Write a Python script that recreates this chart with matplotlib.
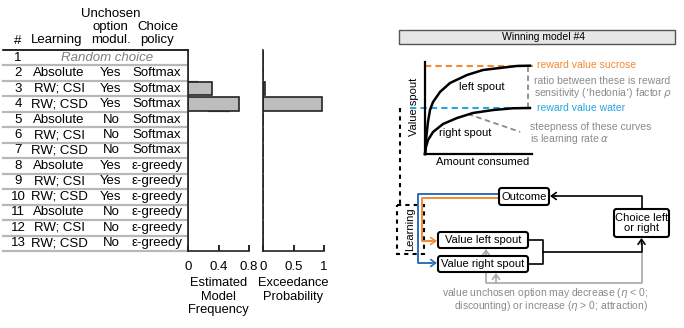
import numpy as np
import matplotlib.pyplot as plt
from matplotlib.patches import FancyBboxPatch, Rectangle

plt.rcParams['font.family'] = ['Liberation Sans', 'DejaVu Sans']

W, H = 684, 328

# ---- model comparison data ----
model_ids = list(range(1, 14))
learning = ['', 'Absolute', 'RW; CSI', 'RW; CSD', 'Absolute', 'RW; CSI', 'RW; CSD',
            'Absolute', 'RW; CSI', 'RW; CSD', 'Absolute', 'RW; CSI', 'RW; CSD']
unchosen = ['', 'Yes', 'Yes', 'Yes', 'No', 'No', 'No', 'Yes', 'Yes', 'Yes', 'No', 'No', 'No']
policy = ['', 'Softmax', 'Softmax', 'Softmax', 'Softmax', 'Softmax', 'Softmax',
          'ε-greedy', 'ε-greedy', 'ε-greedy', 'ε-greedy', 'ε-greedy', 'ε-greedy']
emf = [0, 0, 0.31, 0.67, 0, 0, 0, 0, 0, 0, 0, 0, 0]
ep = [0, 0, 0.03, 0.97, 0, 0, 0, 0, 0, 0, 0, 0, 0]
# spread marks peeking out from behind the EMF bars
spread_rows = [3, 4]
spread_lo = [0.0, 0.28]
spread_hi = [0.12, 0.54]

# ---- schematic value curves (amount consumed vs value) ----
left_x = [0, 0.09, 0.28, 0.47, 0.75, 1.4, 2.34, 3.93, 5.42, 7.0, 8.6, 9.81]
left_y = [0, 0.15, 0.35, 0.48, 0.565, 0.674, 0.772, 0.859, 0.913, 0.935, 0.957, 0.96]
right_x = [0, 0.09, 0.28, 0.75, 1.68, 2.99, 4.49, 6.36, 8.22, 9.81]
right_y = [0, 0.076, 0.152, 0.239, 0.326, 0.391, 0.446, 0.478, 0.497, 0.5]
sucrose_level = 0.96
water_level = 0.5

ORANGE = '#f08a35'
LBLUE = '#29a6e0'
DBLUE = '#2d6fb6'
GREY_T = '#8a8a8a'


def fbox(x0, y0, x1, y1):
    return [x0 / W, 1 - y1 / H, (x1 - x0) / W, (y1 - y0) / H]


fig = plt.figure(figsize=(W / 100, H / 100), dpi=100)

# ---------------- table ----------------
axt = fig.add_axes(fbox(0, 50, 188, 251))
axt.set_xlim(0, 188)
axt.set_ylim(13.5, 0.5)
axt.axis('off')
fs = 9.5
axt.plot([3, 188], [0.5, 0.5], color='k', lw=1.2, clip_on=False)
for r in model_ids:
    axt.plot([3, 188], [r + 0.5, r + 0.5], color='#b8b8b8', lw=1.6, clip_on=False)
for i, r in enumerate(model_ids):
    axt.text(18, r, str(r), ha='center', va='center', fontsize=fs)
    if r == 1:
        axt.text(107, r, 'Random choice', ha='center', va='center', fontsize=fs,
                 style='italic', color='#7f7f7f')
        continue
    axt.text(59, r, learning[i], ha='center', va='center', fontsize=fs)
    axt.text(111, r, unchosen[i], ha='center', va='center', fontsize=fs)
    axt.text(157, r, policy[i], ha='center', va='center', fontsize=fs)


def hy(py):
    return 0.5 + (py - 50) / 15.46


axt.text(18, hy(41), '#', ha='center', va='center', fontsize=fs, clip_on=False)
axt.text(57, hy(40), 'Learning', ha='center', va='center', fontsize=fs)
axt.text(111, hy(40), 'modul.', ha='center', va='center', fontsize=fs)
axt.text(110, hy(27), 'option', ha='center', va='center', fontsize=fs)
axt.text(111, hy(14), 'Unchosen', ha='center', va='center', fontsize=fs)
axt.text(158, hy(27), 'Choice', ha='center', va='center', fontsize=fs)
axt.text(157, hy(40), 'policy', ha='center', va='center', fontsize=fs)

# ---------------- bars ----------------
ax1 = fig.add_axes(fbox(188, 50, 249, 251))
ax2 = fig.add_axes(fbox(263, 50, 324, 251))
for i, (r, lo, hi) in enumerate(zip(spread_rows, spread_lo, spread_hi)):
    yy = r - 0.45 if i == 0 else r + 0.45
    ax1.plot([lo, hi], [yy, yy], color='#555555', lw=1.6, zorder=1)
ax1.barh(model_ids, emf, height=0.88, color='#bdbdbd', edgecolor='#222222', lw=1.2, zorder=2)
ax2.barh(model_ids, ep, height=0.88, color='#bdbdbd', edgecolor='#222222', lw=1.2, zorder=2)
ax1.set_xlim(0, 0.8)
ax2.set_xlim(0, 1)
ax1.set_xticks([0, 0.4, 0.8])
ax1.set_xticklabels(['0', '0.4', '0.8'])
ax2.set_xticks([0, 0.5, 1])
ax2.set_xticklabels(['0', '0.5', '1'])
for ax, lab in [(ax1, 'Estimated\nModel\nFrequency'), (ax2, 'Exceedance\nProbability')]:
    ax.set_ylim(13.5, 0.5)
    ax.set_yticks([])
    ax.set_facecolor('none')
    for s in ['top', 'right']:
        ax.spines[s].set_visible(False)
    for s in ['left', 'bottom']:
        ax.spines[s].set_linewidth(1.2)
        ax.spines[s].set_color('#222222')
    ax.tick_params(axis='x', direction='in', length=4, width=1.2, pad=7, labelsize=9.5)
    ax.set_xlabel(lab, fontsize=9.3, labelpad=3)

# ---------------- diagram canvas (pixel coordinates) ----------------
axd = fig.add_axes([0, 0, 1, 1])
axd.set_xlim(0, W)
axd.set_ylim(H, 0)
axd.axis('off')
fd = 7.5
fb = 8

axd.add_patch(Rectangle((399, 30), 276, 14, fc='#e6e6e6', ec='#555555', lw=1))
axd.text(544, 37.5, 'Winning model #4', ha='center', va='center', fontsize=fd)

# value curves inset
axv = fig.add_axes(fbox(425, 62, 532, 154))
axv.set_facecolor('none')
axv.set_xlim(0, 10)
axv.set_ylim(0, 1)
axv.set_xticks([])
axv.set_yticks([])
for s in ['top', 'right']:
    axv.spines[s].set_visible(False)
for s in ['left', 'bottom']:
    axv.spines[s].set_linewidth(1.6)
axv.plot([0, 10.1], [sucrose_level, sucrose_level], color=ORANGE, lw=1.5, ls=(0, (3, 2)), clip_on=False)
axv.plot([-1.4, 10.1], [water_level, water_level], color=LBLUE, lw=1.5, ls=(0, (3, 2)), clip_on=False)
axv.plot([9.63, 9.63], [water_level, sucrose_level], color='#8a8a8a', lw=1.3, ls=(0, (3, 2)))
axv.plot([4.0, 8.9], [0.435, 0.24], color='#8a8a8a', lw=1.3, ls=(0, (3, 2)))
axv.plot(left_x, left_y, color='k', lw=1.8, clip_on=False)
axv.plot(right_x, right_y, color='k', lw=1.8, clip_on=False)

axd.text(414, 107, 'Value spout', rotation=90, ha='center', va='center', fontsize=fb)
axd.text(483, 162, 'Amount consumed', ha='center', va='center', fontsize=fb)
axd.text(482, 87, 'left spout', ha='center', va='center', fontsize=fb)
axd.text(465, 133, 'right spout', ha='center', va='center', fontsize=fb)
axd.text(537, 65.5, 'reward value sucrose', ha='left', va='center', fontsize=fd, color=ORANGE)
axd.text(534, 80.5, 'ratio between these is reward', ha='left', va='center', fontsize=fd, color=GREY_T)
axd.text(534, 93, 'sensitivity (\u2018hedonia\u2019) factor $\\rho$', ha='left', va='center',
         fontsize=fd, color=GREY_T)
axd.text(537, 108, 'reward value water', ha='left', va='center', fontsize=fd, color=LBLUE)
axd.text(530, 127, 'steepness of these curves', ha='left', va='center', fontsize=fd, color=GREY_T)
axd.text(530, 139, 'is learning rate $\\alpha$', ha='left', va='center', fontsize=fd, color=GREY_T)

# flow diagram
LW = 1.2


def arrow(x0, y0, x1, y1, c):
    axd.annotate('', xy=(x1, y1), xytext=(x0, y0),
                 arrowprops=dict(arrowstyle='->,head_length=0.35,head_width=0.25', color=c,
                                 lw=LW, shrinkA=0, shrinkB=0))


def box(x0, y0, x1, y1, label):
    axd.add_patch(FancyBboxPatch((x0, y0), x1 - x0, y1 - y0,
                                 boxstyle='round,pad=0,rounding_size=2.5',
                                 fc='white', ec='k', lw=1.5, zorder=3))
    axd.text((x0 + x1) / 2, (y0 + y1) / 2, label, ha='center', va='center',
             fontsize=fb, zorder=4, linespacing=1.1)


# grey unchosen-option feedback
axd.plot([641.5, 641.5, 486, 486], [252, 283, 283, 255], color='#a8a8a8', lw=LW, zorder=1)
arrow(486, 255, 486, 249, '#a8a8a8')
arrow(496, 283, 496, 273, '#a8a8a8')

# black choice/outcome loop
axd.plot([641.5, 641.5, 556], [209, 196, 196], color='k', lw=LW)
arrow(556, 196, 550, 196, 'k')
axd.plot([528, 543, 543, 528], [240, 240, 264, 264], color='k', lw=LW)
axd.plot([543, 641.5, 641.5], [252, 252, 244], color='k', lw=LW)
arrow(641.5, 244, 641.5, 238, 'k')

# learning inputs
axd.plot([499, 418, 418, 431], [194, 194, 263, 263], color=DBLUE, lw=1.4)
arrow(431, 263, 437, 263, DBLUE)
axd.plot([499, 422, 422, 431], [198, 198, 241, 241], color=ORANGE, lw=1.4)
arrow(431, 241, 437, 241, ORANGE)

axd.plot([400, 400], [108, 205], color='k', lw=1.5, ls=(0, (2, 2)))
axd.add_patch(Rectangle((397, 205), 27, 49, fill=False, ec='k', lw=1.5, ls=(0, (2, 2))))
axd.text(410, 229.5, 'Learning', rotation=90, ha='center', va='center', fontsize=fb)

box(499, 188, 549, 205, 'Outcome')
box(614, 209, 669, 237, 'Choice left\nor right')
box(438, 232, 528, 248, 'Value left spout')
box(438, 256, 528, 272, 'Value right spout')

axd.text(648, 293, 'value unchosen option may decrease ($\\eta$ < 0;', ha='right', va='center',
         fontsize=fd, color=GREY_T)
axd.text(648, 306, 'discounting) or increase ($\\eta$ > 0; attraction)', ha='right', va='center',
         fontsize=fd, color=GREY_T)

fig.savefig('out.png', dpi=100)
